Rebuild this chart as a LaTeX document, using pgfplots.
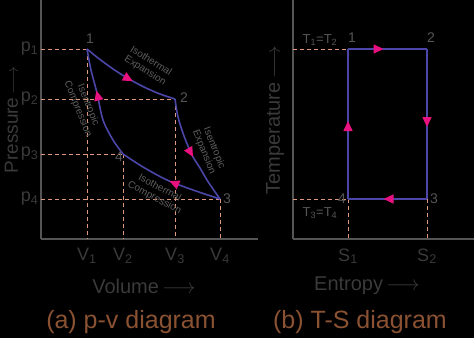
\documentclass[border=0pt]{standalone}
\usepackage{pgfplots}
\pgfplotsset{compat=1.18}
\usepackage{fontspec}
\setmainfont{Liberation Sans}
\usetikzlibrary{decorations.markings,arrows.meta}
\definecolor{cyc}{HTML}{4B46A8}
\definecolor{mag}{HTML}{E8117F}
\definecolor{dsh}{HTML}{E0987A}
\definecolor{txt}{HTML}{3A3A3A}
\definecolor{lbl}{HTML}{5E5E5E}
\definecolor{axg}{HTML}{555555}
\definecolor{ttl}{HTML}{8A5232}
\pgfplotsset{
  arr/.style={postaction={decorate}, decoration={markings,
    mark=at position #1 with {\arrow{Triangle[length=10pt,width=9pt,color=mag]}}}},
  dl/.style={dsh, densely dashed, dash pattern=on 4pt off 3pt, line width=1pt},
  cy/.style={cyc, line width=1.6pt},
  base/.style={scale only axis, height=239pt, ymin=99, ymax=338,
    axis lines=left, axis line style={-, draw=axg, line width=1.3pt},
    major tick length=0pt, clip=false,
    tick label style={txt, font=\fontsize{18}{18}\selectfont},
    xticklabel style={yshift=-6pt}},
}
\begin{document}
\begin{tikzpicture}[x=1pt,y=1pt]
\useasboundingbox (0,0) rectangle (474,338);
\fill[black] (0,0) rectangle (474,338);
% ---------- p-v diagram ----------
\begin{axis}[base, at={(41pt,99pt)}, anchor=south west, width=217pt,
  xmin=41, xmax=258,
  xtick={87,123,175,220},
  xticklabels={V\textsubscript{1},V\textsubscript{2},V\textsubscript{3},V\textsubscript{4}},
  ytick={139,184,239,289},
  yticklabels={p\textsubscript{4},p\textsubscript{3},p\textsubscript{2},p\textsubscript{1}},
  yticklabel style={xshift=1pt}]
% dashed guide lines
\addplot[dl] coordinates {(41,289) (87,289)};
\addplot[dl] coordinates {(41,239) (175,239)};
\addplot[dl] coordinates {(41,184) (123,184)};
\addplot[dl] coordinates {(41,139) (220,139)};
\addplot[dl] coordinates {(87,289) (87,99)};
\addplot[dl] coordinates {(123,184) (123,99)};
\addplot[dl] coordinates {(175,239) (175,99)};
\addplot[dl] coordinates {(220,139) (220,99)};
% cycle
\addplot[cy, smooth, arr=0.55] coordinates {(87,289) (100,278.5) (115,267.7) (130,258.4) (145,250.5) (160,244) (175,239)};
\addplot[cy, smooth, arr=0.55] coordinates {(175,239) (178,221) (184,202) (192,183) (200,170) (207,158) (213,149) (220,139)};
\addplot[cy, smooth, arr=0.5] coordinates {(220,139) (193,148) (167,158) (143,171) (123,184)};
\addplot[cy, smooth, arr=0.62] coordinates {(123,184) (113,198) (103,218) (97,245) (91,268) (87,289)};
% labels
\node[lbl, font=\fontsize{10}{11}\selectfont, align=center, rotate=-32] at (axis cs:148,272) {Isothermal\\Expansion};
\node[lbl, font=\fontsize{10}{11}\selectfont, align=center, rotate=-68] at (axis cs:209,188) {Isentropic\\Expansion};
\node[lbl, font=\fontsize{10}{11}\selectfont, align=center, rotate=-68] at (axis cs:83,231) {Isentropic\\Compression};
\node[lbl, font=\fontsize{10}{11}\selectfont, align=center, rotate=-28] at (axis cs:157,145) {Isothermal\\Compression};
\node[axg, font=\fontsize{14}{14}\selectfont] at (axis cs:90,299) {1};
\node[axg, font=\fontsize{14}{14}\selectfont] at (axis cs:184,240) {2};
\node[axg, font=\fontsize{14}{14}\selectfont] at (axis cs:227,139) {3};
\node[axg, font=\fontsize{14}{14}\selectfont] at (axis cs:119,181) {4};
\node[txt, font=\fontsize{19}{19}\selectfont, rotate=90] at (axis cs:11.5,218) {Pressure\,$\longrightarrow$};
\node[txt, font=\fontsize{20}{20}\selectfont] at (axis cs:144,52) {Volume\,$\longrightarrow$};
\node[ttl, font=\fontsize{25}{25}\selectfont] at (axis cs:131,16) {(a) p-v diagram};
\end{axis}
% ---------- T-S diagram ----------
\begin{axis}[base, at={(293pt,99pt)}, anchor=south west, width=181pt,
  xmin=293, xmax=474,
  xtick={348,427},
  xticklabels={S\textsubscript{1},S\textsubscript{2}},
  ytick=\empty]
\addplot[dl] coordinates {(293,289) (348,289)};
\addplot[dl] coordinates {(293,139) (348,139)};
\addplot[dl] coordinates {(348,139) (348,99)};
\addplot[dl] coordinates {(427,139) (427,99)};
\addplot[cy, arr=0.45] coordinates {(348,289) (427,289)};
\addplot[cy, arr=0.52] coordinates {(427,289) (427,139)};
\addplot[cy, arr=0.55] coordinates {(427,139) (348,139)};
\addplot[cy, arr=0.52] coordinates {(348,139) (348,289)};
\node[axg, font=\fontsize{14}{14}\selectfont] at (axis cs:352,300) {1};
\node[axg, font=\fontsize{14}{14}\selectfont] at (axis cs:431,300) {2};
\node[axg, font=\fontsize{14}{14}\selectfont] at (axis cs:434,139) {3};
\node[axg, font=\fontsize{14}{14}\selectfont] at (axis cs:342,139) {4};
\node[axg, font=\fontsize{13}{13}\selectfont] at (axis cs:320,298) {T\textsubscript{1}=T\textsubscript{2}};
\node[axg, font=\fontsize{13}{13}\selectfont] at (axis cs:320,125) {T\textsubscript{3}=T\textsubscript{4}};
\node[txt, font=\fontsize{20}{20}\selectfont, rotate=90] at (axis cs:275,218) {Temperature\,$\longrightarrow$};
\node[txt, font=\fontsize{20}{20}\selectfont] at (axis cs:367,52) {Entropy\,$\longrightarrow$};
\node[ttl, font=\fontsize{25}{25}\selectfont] at (axis cs:360,16) {(b) T-S diagram};
\end{axis}
\end{tikzpicture}
\end{document}
